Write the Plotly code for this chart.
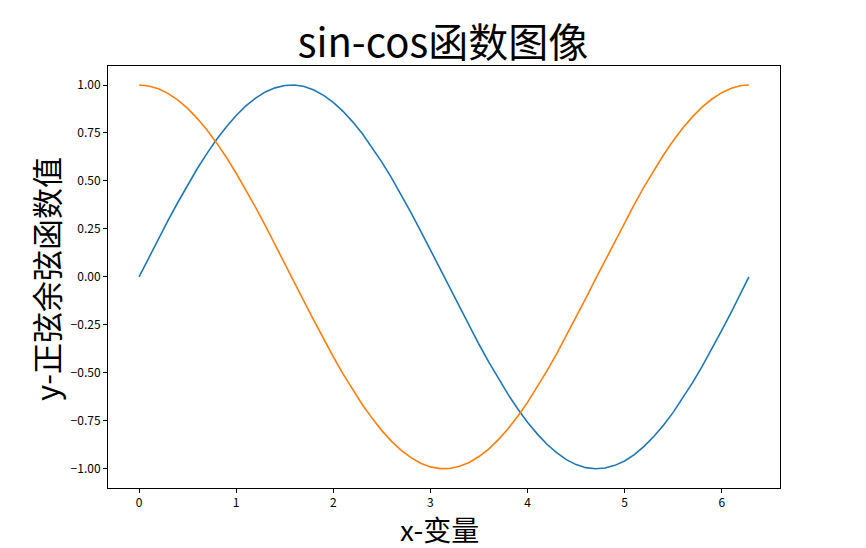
import plotly.graph_objects as go

# values
x_vals = [0.0, 0.1, 0.2, 0.3, 0.4, 0.5, 0.6, 0.7, 0.8, 0.9, 1.0, 1.1, 1.2, 1.3, 1.4, 1.5,
          1.6, 1.7, 1.8, 1.9, 2.0, 2.1, 2.2, 2.3, 2.4, 2.5, 2.6, 2.7, 2.8, 2.9, 3.0, 3.1,
          3.2, 3.3, 3.4, 3.5, 3.6, 3.7, 3.8, 3.9, 4.0, 4.1, 4.2, 4.3, 4.4, 4.5, 4.6, 4.7,
          4.8, 4.9, 5.0, 5.1, 5.2, 5.3, 5.4, 5.5, 5.6, 5.7, 5.8, 5.9, 6.0, 6.1, 6.2, 6.28]
sin_vals = [0.000, 0.100, 0.199, 0.296, 0.389, 0.479, 0.565, 0.644, 0.717, 0.783, 0.841, 0.891,
            0.932, 0.964, 0.985, 0.997, 1.000, 0.992, 0.974, 0.946, 0.909, 0.863, 0.808, 0.746,
            0.675, 0.598, 0.516, 0.427, 0.335, 0.239, 0.141, 0.042, -0.058, -0.158, -0.256, -0.351,
            -0.443, -0.530, -0.612, -0.688, -0.757, -0.818, -0.872, -0.916, -0.952, -0.978, -0.994, -1.000,
            -0.996, -0.982, -0.959, -0.926, -0.883, -0.832, -0.773, -0.706, -0.631, -0.551, -0.465, -0.374,
            -0.279, -0.182, -0.083, 0.000]
cos_vals = [1.000, 0.995, 0.980, 0.955, 0.921, 0.878, 0.825, 0.765, 0.697, 0.622, 0.540, 0.454,
            0.362, 0.267, 0.170, 0.071, -0.029, -0.129, -0.227, -0.323, -0.416, -0.505, -0.589, -0.666,
            -0.737, -0.801, -0.857, -0.904, -0.942, -0.971, -0.990, -0.999, -0.998, -0.987, -0.967, -0.936,
            -0.897, -0.848, -0.791, -0.726, -0.654, -0.575, -0.490, -0.401, -0.307, -0.211, -0.112, -0.012,
            0.087, 0.187, 0.284, 0.378, 0.469, 0.554, 0.635, 0.709, 0.776, 0.835, 0.886, 0.927,
            0.960, 0.983, 0.997, 1.000]

x_ticks = [0, 1, 2, 3, 4, 5, 6]
y_ticks = [-1.0, -0.75, -0.5, -0.25, 0.0, 0.25, 0.5, 0.75, 1.0]
y_tick_text = ['−1.00', '−0.75', '−0.50', '−0.25', '0.00', '0.25', '0.50', '0.75', '1.00']

font_cjk = 'Noto Sans CJK SC'

fig = go.Figure()
fig.add_trace(go.Scatter(x=x_vals, y=sin_vals, mode='lines', name='sin',
                         line=dict(color='#1f77b4', width=1.6)))
fig.add_trace(go.Scatter(x=x_vals, y=cos_vals, mode='lines', name='cos',
                         line=dict(color='#ff7f0e', width=1.6)))

axis_style = dict(showline=True, linecolor='black', linewidth=1, mirror=True,
                  ticks='outside', ticklen=4, tickcolor='black', showgrid=False,
                  zeroline=False, tickfont=dict(family=font_cjk, size=12, color='black'))

fig.update_xaxes(range=[-0.32, 6.60], tickvals=x_ticks, **axis_style)
fig.update_yaxes(range=[-1.10, 1.099], tickvals=y_ticks, ticktext=y_tick_text, **axis_style)

fig.update_layout(
    width=866, height=548,
    margin=dict(l=108, r=86, t=66, b=60),
    paper_bgcolor='white', plot_bgcolor='white',
    showlegend=False,
    title=dict(text='sin-cos函数图像', x=0.5115, xanchor='center', y=1 - 43 / 548, yanchor='middle',
               font=dict(family=font_cjk, size=40, color='black')),
    annotations=[
        dict(text='x-变量', xref='paper', yref='paper', x=0.493, y=-0.097,
             xanchor='center', yanchor='middle', showarrow=False,
             font=dict(family=font_cjk, size=28, color='black')),
        dict(text='y-正弦余弦函数值', xref='paper', yref='paper', x=-0.094, y=0.495,
             xanchor='center', yanchor='middle', showarrow=False, textangle=-90,
             font=dict(family=font_cjk, size=31, color='black')),
    ],
)

# drop the default page margin so the figure sits at the window's top-left corner
fig.write_html('out.html', config={'displayModeBar': False},
               post_script="document.body.style.margin='0';")
